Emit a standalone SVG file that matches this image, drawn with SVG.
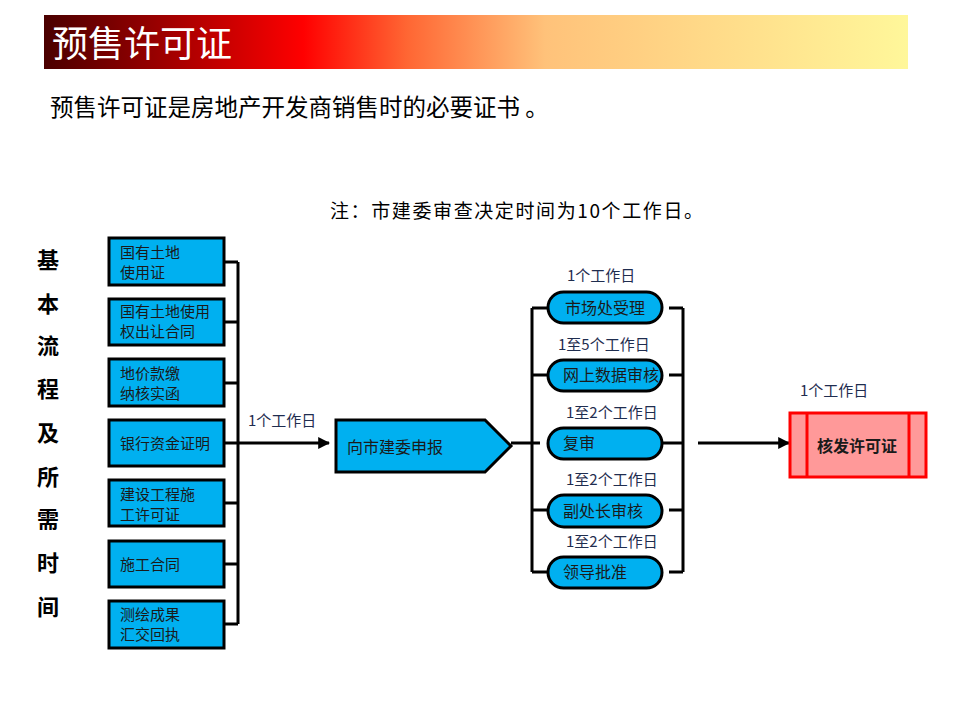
<svg xmlns="http://www.w3.org/2000/svg" width="960" height="720" viewBox="0 0 960 720">
<defs>
<linearGradient id="banner" x1="0" y1="0" x2="1" y2="0">
<stop offset="0" stop-color="#4a0000"/>
<stop offset="0.3" stop-color="#ff0000"/>
<stop offset="0.42" stop-color="#ff6633"/>
<stop offset="0.58" stop-color="#ffc27a"/>
<stop offset="1" stop-color="#fff79a"/>
</linearGradient>
<marker id="arrow" viewBox="0 0 10 10" refX="9" refY="5" markerWidth="4" markerHeight="4" orient="auto" markerUnits="strokeWidth">
<path d="M0,0 L10,5 L0,10 z" fill="#000"/>
</marker>
</defs>
<style>
text{font-family:"Noto Sans CJK SC","Noto Sans",sans-serif;}
.box{fill:#00b0f0;stroke:#000;stroke-width:3;}
.bt{font-size:15px;fill:#1a1a1a;}
.ot{font-size:16px;fill:#1a1a1a;}
.lbl{font-size:15px;fill:#1f2d4f;}
.ln{fill:none;stroke:#000;stroke-width:3;}
.vt{font-size:22px;font-weight:bold;fill:#000;text-anchor:middle;}
</style>
<rect width="960" height="720" fill="#fff"/>
<rect x="44" y="15" width="864" height="54" fill="url(#banner)"/>
<text x="52" y="57" font-size="36" fill="#fff">预售许可证</text>
<text x="50" y="116" font-size="23.5" fill="#000">预售许可证是房地产开发商销售时的必要证书 。</text>
<text x="330" y="218" font-size="19" fill="#000" textLength="373" lengthAdjust="spacing">注：市建委审查决定时间为10个工作日。</text>
<g id="side-title">
<text class="vt" x="48" y="268">基</text>
<text class="vt" x="48" y="312">本</text>
<text class="vt" x="48" y="354">流</text>
<text class="vt" x="48" y="397">程</text>
<text class="vt" x="48" y="441">及</text>
<text class="vt" x="48" y="485">所</text>
<text class="vt" x="48" y="527">需</text>
<text class="vt" x="48" y="571">时</text>
<text class="vt" x="48" y="615">间</text>
</g>
<g id="connectors">
<path class="ln" d="M224,262 H238 M224,322 H238 M224,383 H238 M224,443 H238 M224,503 H238 M224,564 H238 M224,624 H238 M238,262 V624"/>
<line class="ln" x1="238" y1="443" x2="329" y2="443" marker-end="url(#arrow)"/>
<path class="ln" d="M511,443 H540 M532,308 V572 M532,308 H548 M532,375 H548 M532,510 H548 M532,572 H548"/>
<path class="ln" d="M669,308 H683 M669,375 H683 M662,443 H683 M669,510 H683 M669,572 H683 M683,308 V572"/>
<line class="ln" x1="698" y1="443" x2="789" y2="443" marker-end="url(#arrow)"/>
</g>
<g id="box1"><rect class="box" x="109" y="238" width="115" height="47"/><text class="bt" x="120" y="258">国有土地</text><text class="bt" x="120" y="278">使用证</text></g>
<g id="box2"><rect class="box" x="109" y="299" width="115" height="46"/><text class="bt" x="120" y="317">国有土地使用</text><text class="bt" x="120" y="337">权出让合同</text></g>
<g id="box3"><rect class="box" x="109" y="359" width="115" height="47"/><text class="bt" x="120" y="379">地价款缴</text><text class="bt" x="120" y="399">纳核实函</text></g>
<g id="box4"><rect class="box" x="109" y="420" width="115" height="46"/><text class="bt" x="120" y="449">银行资金证明</text></g>
<g id="box5"><rect class="box" x="109" y="480" width="115" height="46"/><text class="bt" x="120" y="500">建设工程施</text><text class="bt" x="120" y="520">工许可证</text></g>
<g id="box6"><rect class="box" x="109" y="541" width="115" height="46"/><text class="bt" x="120" y="570">施工合同</text></g>
<g id="box7"><rect class="box" x="109" y="601" width="115" height="47"/><text class="bt" x="120" y="620">测绘成果</text><text class="bt" x="120" y="640">汇交回执</text></g>
<text class="lbl" x="248" y="426">1个工作日</text>
<g id="submit"><path class="box" d="M336,420 H485 L511,446 L485,472 H336 Z"/><text class="ot" x="347" y="453">向市建委申报</text></g>
<g id="o1"><rect class="box" x="548" y="292" width="114" height="31" rx="15.5"/><text class="ot" x="565" y="314">市场处受理</text></g>
<g id="o2"><rect class="box" x="548" y="360" width="114" height="31" rx="15.5"/><text class="ot" x="563" y="381">网上数据审核</text></g>
<g id="o3"><rect class="box" x="548" y="428" width="114" height="31" rx="15.5"/><text class="ot" x="563" y="449">复审</text></g>
<g id="o4"><rect class="box" x="548" y="495" width="114" height="32" rx="16"/><text class="ot" x="563" y="517">副处长审核</text></g>
<g id="o5"><rect class="box" x="548" y="557" width="114" height="31" rx="15.5"/><text class="ot" x="563" y="578">领导批准</text></g>
<text class="lbl" x="567" y="281">1个工作日</text>
<text class="lbl" x="558" y="350">1至5个工作日</text>
<text class="lbl" x="566" y="418">1至2个工作日</text>
<text class="lbl" x="566" y="485">1至2个工作日</text>
<text class="lbl" x="566" y="547">1至2个工作日</text>
<text class="lbl" x="800" y="396">1个工作日</text>
<g id="issue">
<rect x="790" y="413" width="136" height="64" fill="#ff9999" stroke="#ff0000" stroke-width="3"/>
<line x1="807" y1="413" x2="807" y2="477" stroke="#ff0000" stroke-width="3"/>
<line x1="909" y1="413" x2="909" y2="477" stroke="#ff0000" stroke-width="3"/>
<text x="857" y="452" font-size="16" font-weight="bold" text-anchor="middle" fill="#1a1a1a">核发许可证</text>
</g>
</svg>
